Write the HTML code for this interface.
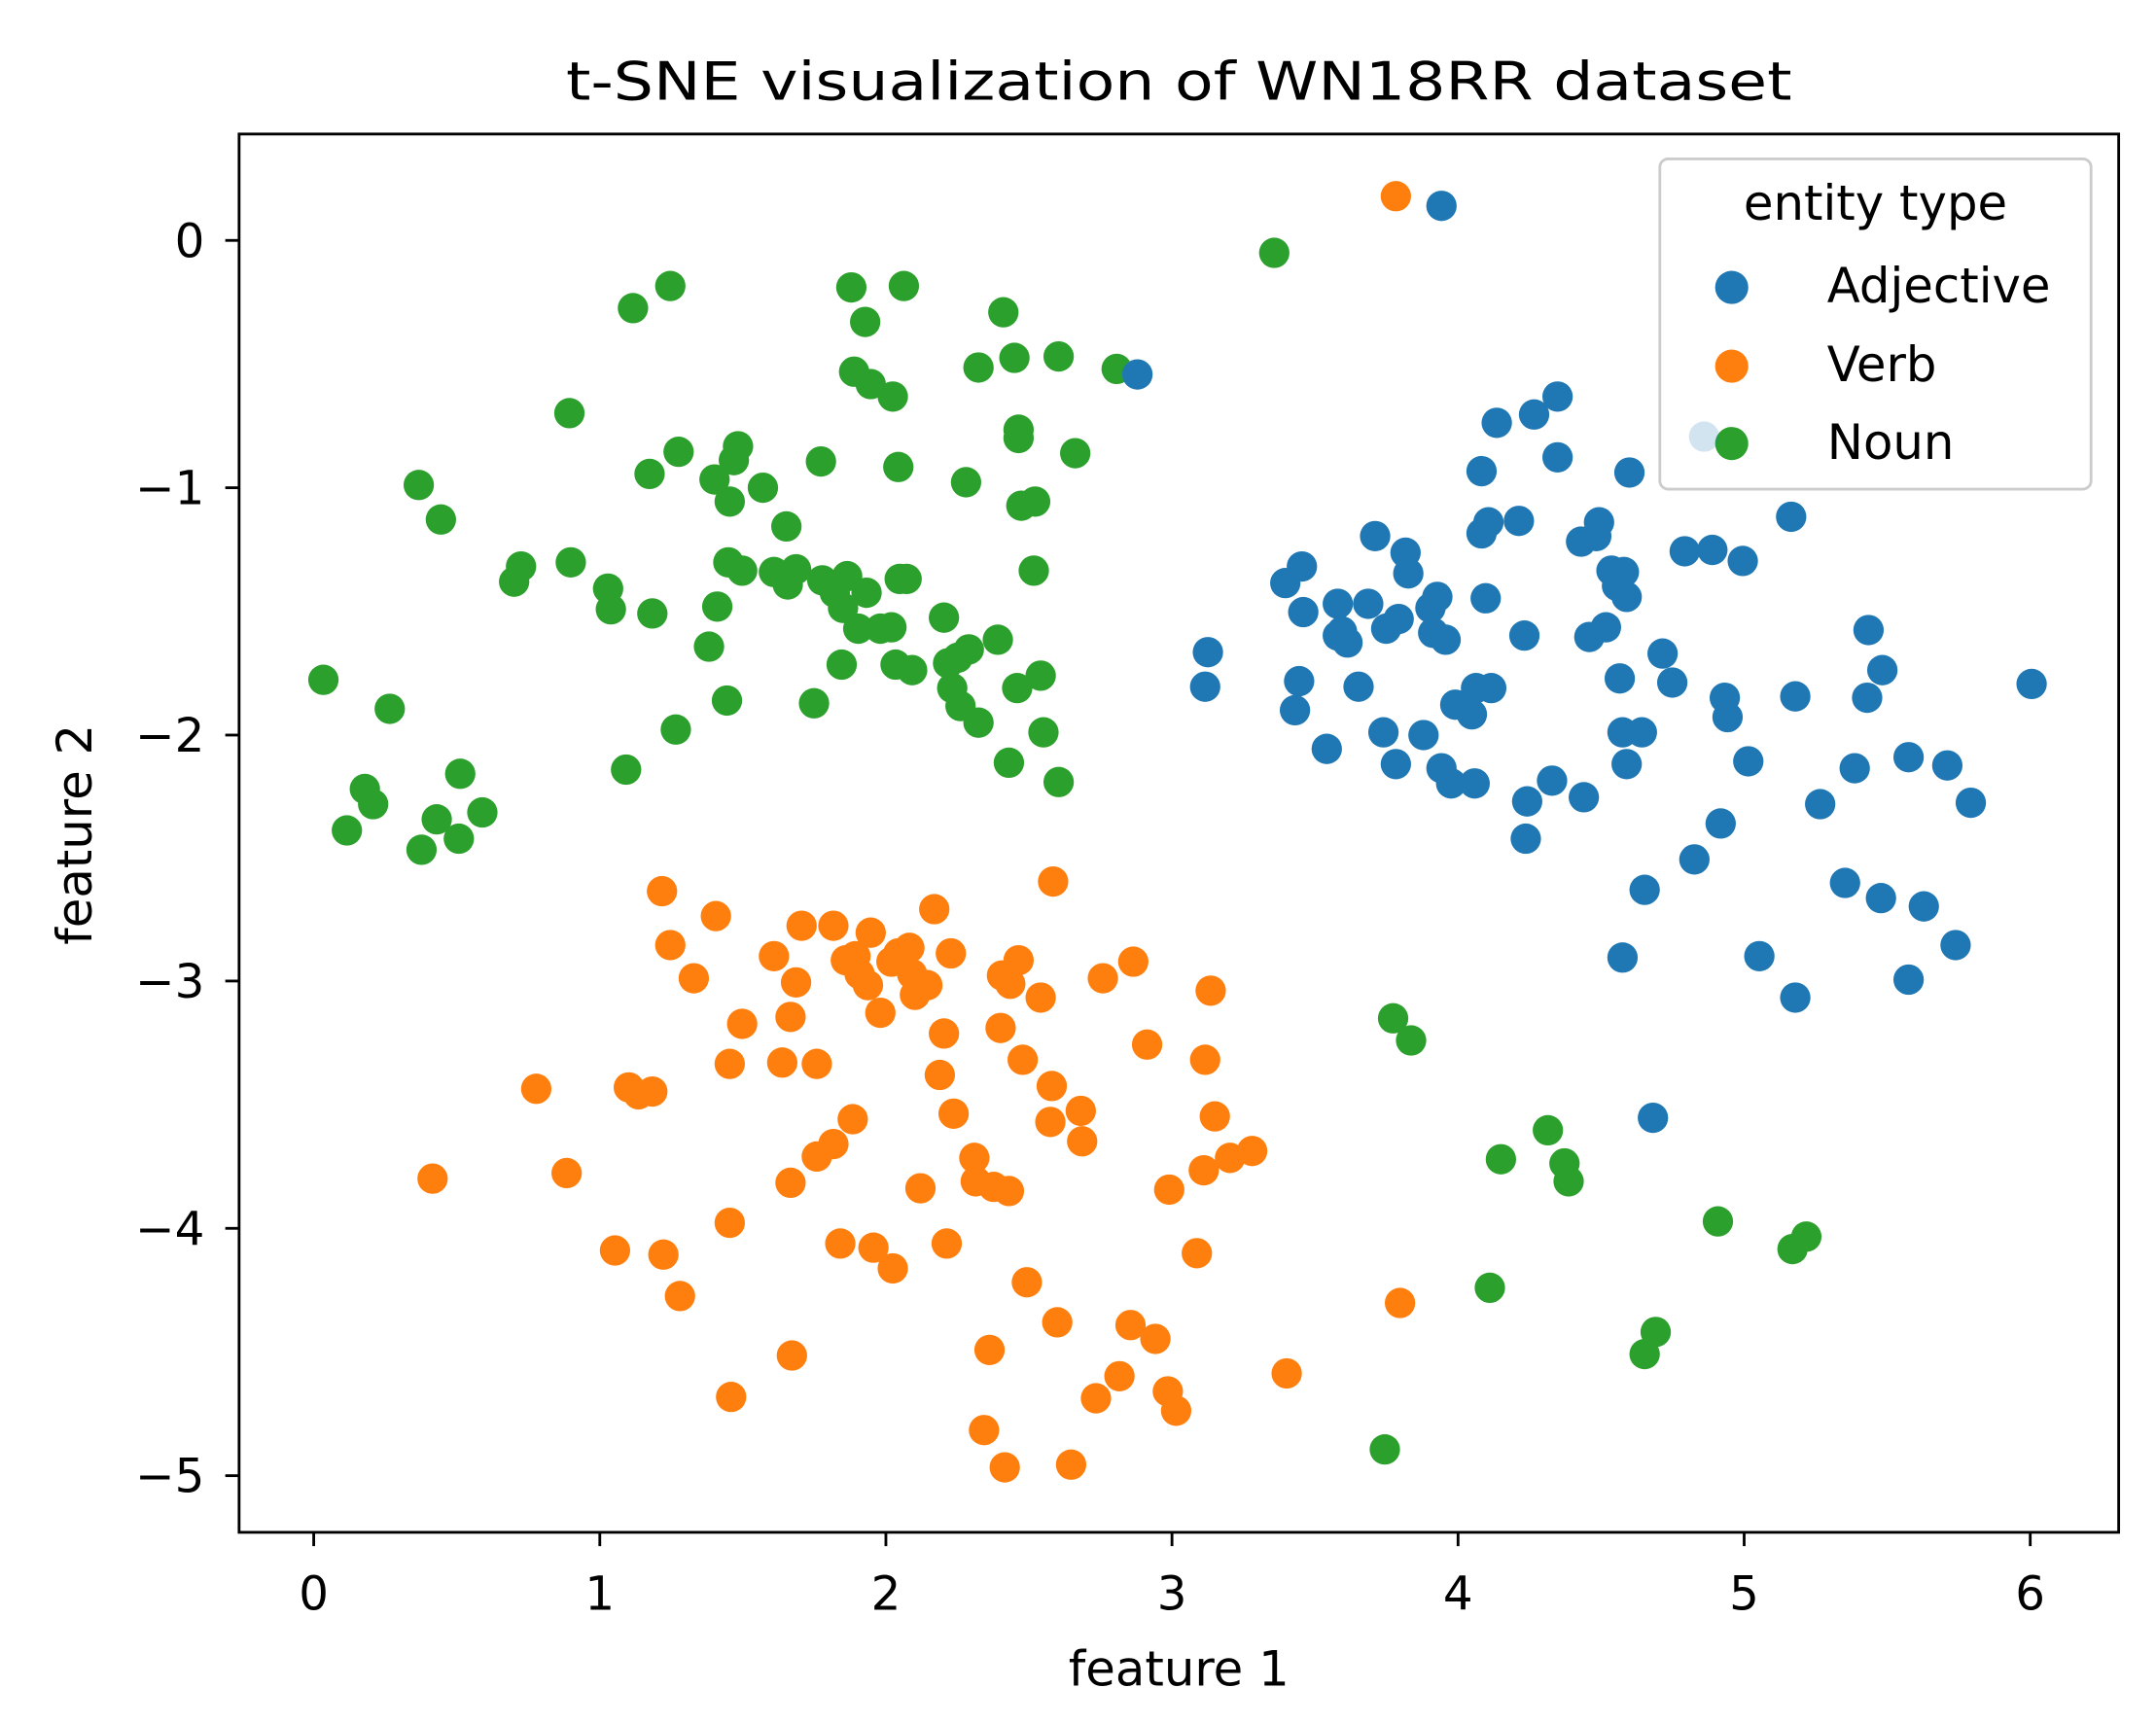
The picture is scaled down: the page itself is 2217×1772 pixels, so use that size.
<!DOCTYPE html>
<html><head><meta charset="utf-8"><style>html,body{margin:0;padding:0;background:#fff}svg{display:block}</style></head><body>
<svg width="2217" height="1772" viewBox="0 0 1560 1247" preserveAspectRatio="none" xmlns="http://www.w3.org/2000/svg" font-family="DejaVu Sans, Liberation Sans, sans-serif">
<rect width="1560" height="1247" fill="#fff"/>
<text x="853" y="72" font-size="38" text-anchor="middle" textLength="887" lengthAdjust="spacingAndGlyphs">t-SNE visualization of WN18RR dataset</text>
<g fill="#2ca02c" id="g"></g>
<g fill="#1f77b4" id="b"></g>
<g fill="#ff7f0e" id="o"></g>
<rect x="173" y="97" width="1360" height="1012" fill="none" stroke="#000" stroke-width="2"/>
<g stroke="#000" stroke-width="2">
<line x1="227" y1="1109" x2="227" y2="1119"/><line x1="434" y1="1109" x2="434" y2="1119"/><line x1="641" y1="1109" x2="641" y2="1119"/><line x1="848" y1="1109" x2="848" y2="1119"/><line x1="1055" y1="1109" x2="1055" y2="1119"/><line x1="1262" y1="1109" x2="1262" y2="1119"/><line x1="1469" y1="1109" x2="1469" y2="1119"/>
<line x1="163" y1="174" x2="173" y2="174"/><line x1="163" y1="353" x2="173" y2="353"/><line x1="163" y1="532" x2="173" y2="532"/><line x1="163" y1="710" x2="173" y2="710"/><line x1="163" y1="889" x2="173" y2="889"/><line x1="163" y1="1068" x2="173" y2="1068"/>
</g>
<g font-size="34" text-anchor="middle">
<text x="227" y="1165">0</text><text x="434" y="1165">1</text><text x="641" y="1165">2</text><text x="848" y="1165">3</text><text x="1055" y="1165">4</text><text x="1262" y="1165">5</text><text x="1469" y="1165">6</text>
</g>
<g font-size="34" text-anchor="end">
<text x="148" y="186">0</text><text x="148" y="365">−1</text><text x="148" y="544">−2</text><text x="148" y="722">−3</text><text x="148" y="901">−4</text><text x="148" y="1080">−5</text>
</g>
<text x="853" y="1220" font-size="35" text-anchor="middle">feature 1</text>
<text transform="translate(66,604) rotate(-90)" font-size="35" text-anchor="middle">feature 2</text>
<rect x="1201" y="115" width="312" height="239" rx="6" fill="#fff" fill-opacity="0.8" stroke="#ccc" stroke-width="2"/>
<text x="1357" y="159" font-size="35" text-anchor="middle">entity type</text>
<circle cx="1253" cy="208" r="12" fill="#1f77b4"/><circle cx="1253" cy="265" r="12" fill="#ff7f0e"/><circle cx="1253" cy="321" r="12" fill="#2ca02c"/>
<text x="1322" y="219" font-size="35">Adjective</text><text x="1322" y="276" font-size="35">Verb</text><text x="1322" y="332" font-size="35">Noun</text>
<circle cx="1233" cy="316" r="11" fill="#1f77b4" fill-opacity="0.2"/>
</svg>
<script>
const G=[[234,492],[251,601],[264,571],[270,582],[282,513],[303,351],[305,615],[316,593],[319,376],[332,607],[333,560],[349,588],[372,421],[377,410],[412,299],[413,407],[440,426],[442,441],[453,557],[458,223],[470,343],[472,444],[485,207],[489,528],[491,327],[513,468],[517,347],[519,439],[526,507],[527,407],[528,363],[531,333],[534,323],[537,413],[552,353],[560,414],[569,381],[570,423],[576,412],[589,509],[594,334],[595,420],[604,429],[609,481],[610,440],[613,417],[616,208],[618,269],[621,455],[626,233],[627,429],[630,278],[637,455],[645,454],[646,287],[648,481],[650,338],[651,419],[654,207],[656,419],[660,485],[683,447],[686,480],[689,498],[693,476],[695,511],[699,349],[701,470],[708,523],[708,266],[722,463],[726,226],[730,552],[734,259],[736,498],[737,311],[737,317],[739,366],[748,413],[749,363],[753,489],[755,530],[766,566],[766,258],[778,328],[808,267],[922,183],[1008,737],[1021,753],[1086,839],[1120,818],[1132,842],[1135,855],[1078,932],[1243,884],[1297,904],[1307,895],[1190,980],[1198,964],[1002,1049]];
const B=[[823,271],[1043,149],[874,472],[872,497],[930,422],[942,410],[943,443],[940,493],[937,514],[960,542],[968,437],[971,457],[975,465],[968,460],[983,497],[990,437],[995,388],[1001,530],[1003,455],[1010,553],[1012,448],[1017,400],[1019,415],[1030,532],[1035,440],[1037,458],[1040,432],[1043,556],[1046,463],[1050,567],[1053,510],[1065,517],[1067,567],[1068,498],[1072,341],[1072,386],[1075,433],[1077,378],[1079,498],[1083,306],[1099,377],[1103,460],[1105,580],[1104,607],[1110,300],[1123,565],[1127,287],[1127,331],[1144,392],[1146,577],[1150,461],[1155,388],[1157,378],[1162,454],[1166,413],[1170,424],[1172,491],[1174,530],[1174,693],[1175,414],[1177,432],[1177,553],[1179,342],[1188,530],[1190,644],[1196,809],[1203,473],[1210,494],[1219,399],[1226,622],[1239,398],[1245,596],[1248,505],[1250,519],[1261,406],[1265,551],[1273,692],[1296,374],[1299,722],[1299,504],[1317,582],[1335,639],[1342,556],[1351,505],[1352,456],[1361,650],[1362,485],[1381,709],[1381,548],[1392,656],[1409,554],[1415,684],[1426,581],[1470,495]];
const O=[[1010,142],[313,853],[388,788],[410,849],[445,905],[455,787],[462,792],[472,790],[479,645],[480,908],[485,684],[492,938],[502,708],[518,663],[528,770],[528,885],[529,1011],[537,741],[560,692],[566,769],[572,736],[572,856],[573,981],[576,711],[580,670],[591,770],[591,837],[603,828],[603,670],[612,695],[617,810],[619,692],[608,900],[622,705],[628,713],[632,903],[630,675],[637,733],[645,696],[646,918],[650,690],[658,686],[660,705],[662,720],[666,860],[671,713],[676,658],[680,778],[683,748],[685,900],[688,690],[690,806],[705,838],[706,855],[712,1035],[716,977],[719,859],[724,744],[725,706],[727,1062],[730,862],[731,712],[737,695],[740,767],[743,928],[753,722],[760,812],[761,786],[762,638],[765,957],[782,804],[783,826],[793,1012],[798,708],[810,996],[818,959],[820,696],[830,756],[836,969],[845,1007],[846,861],[851,1021],[866,907],[871,847],[872,767],[876,717],[879,808],[890,838],[906,833],[931,994],[1013,943],[775,1060]];
function put(id,a){const g=document.getElementById(id);let s='';for(const p of a)s+='<circle cx="'+p[0]+'" cy="'+p[1]+'" r="11"/>';g.innerHTML=s;}
put('g',G);put('b',B);put('o',O);
</script>
</body></html>
